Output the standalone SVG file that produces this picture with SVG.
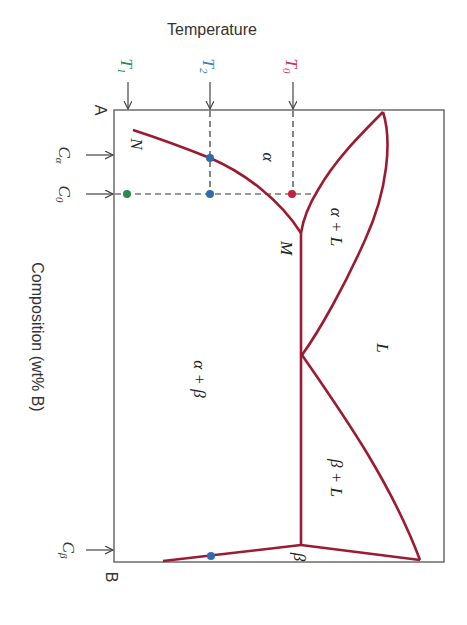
<svg xmlns="http://www.w3.org/2000/svg" width="467" height="625" viewBox="0 0 467 625">
<style>
.box{fill:none;stroke:#555;stroke-width:1.3}
.curve{fill:none;stroke:#9b1b30;stroke-width:2.6;stroke-linejoin:round}
.dash{fill:none;stroke:#333;stroke-width:1.2;stroke-dasharray:6,4}
.arr{fill:none;stroke:#444;stroke-width:1.2;marker-end:url(#ah)}
.sans{font-family:"Liberation Sans",Arial,sans-serif;font-size:16px;fill:#333}
.it{font-family:"Liberation Serif","Times New Roman",serif;font-style:italic;font-size:16px;fill:#222}
.lab{font-family:"Liberation Serif","Times New Roman",serif;font-style:italic;font-size:17px}
</style>
<defs>
<marker id="ah" markerWidth="10" markerHeight="10" refX="8" refY="4" orient="auto" markerUnits="userSpaceOnUse">
<path d="M0,0 L8,4 L0,8" fill="none" stroke="#444" stroke-width="1.2"/>
</marker>
</defs>
<g id="frame">
<rect class="box" x="114" y="110" width="330" height="452"/>
</g>
<g id="labels-axes">
<text class="sans" x="212" y="35" text-anchor="middle">Temperature</text>
<text class="sans" transform="translate(32,337) rotate(90)" text-anchor="middle">Composition (wt% B)</text>
<text class="sans" transform="translate(95,110) rotate(90)" text-anchor="middle">A</text>
<text class="sans" transform="translate(106,577) rotate(90)" text-anchor="middle">B</text>
</g>
<g id="temp-labels">
<text class="lab" transform="translate(121,66) rotate(90)" text-anchor="middle" style="fill:#2a8a5c">T<tspan font-size="11" dy="3">1</tspan></text>
<text class="lab" transform="translate(203,66) rotate(90)" text-anchor="middle" style="fill:#3a7fbf">T<tspan font-size="11" dy="3">2</tspan></text>
<text class="lab" transform="translate(286,66) rotate(90)" text-anchor="middle" style="fill:#d0305f">T<tspan font-size="11" dy="3">0</tspan></text>
</g>
<g id="comp-labels">
<text class="lab" transform="translate(59,155) rotate(90)" text-anchor="middle" style="fill:#333">C<tspan font-size="11" dy="3">α</tspan></text>
<text class="lab" transform="translate(59,194) rotate(90)" text-anchor="middle" style="fill:#333">C<tspan font-size="11" dy="3">0</tspan></text>
<text class="lab" transform="translate(63,550) rotate(90)" text-anchor="middle" style="fill:#333">C<tspan font-size="11" dy="3">β</tspan></text>
</g>
<g id="connectors">
<line class="arr" x1="128" y1="82" x2="128" y2="109"/>
<line class="arr" x1="210" y1="82" x2="210" y2="109"/>
<line class="arr" x1="293" y1="82" x2="293" y2="109"/>
<line class="arr" x1="86" y1="155" x2="113" y2="155"/>
<line class="arr" x1="86" y1="194" x2="113" y2="194"/>
<line class="arr" x1="86" y1="550" x2="113" y2="550"/>
<line class="dash" x1="210" y1="111" x2="210" y2="194"/>
<line class="dash" x1="293" y1="111" x2="293" y2="194"/>
<line class="dash" x1="115" y1="194" x2="316" y2="194"/>
</g>
<g id="phase-boundaries">
<path class="curve" d="M133,130 C170,142 195,152 210,158 C245,173 280,200 301,233"/>
<path class="curve" d="M383,112 C360,135 335,160 318,190 C310,203 303,220 301,233"/>
<path class="curve" d="M383,112 C392,140 388,190 365,240 C345,285 320,330 302,355"/>
<path class="curve" d="M301,233 L301,545"/>
<path class="curve" d="M302,355 C340,410 390,480 420,560"/>
<path class="curve" d="M301,545 L420,560"/>
<path class="curve" d="M301,545 L163,561"/>
</g>
<g id="points">
<circle cx="127" cy="194" r="4" fill="#2a8a50"/>
<circle cx="210" cy="158" r="4" fill="#2f6cae"/>
<circle cx="210" cy="194" r="4" fill="#2f6cae"/>
<circle cx="292" cy="194" r="4" fill="#c8203c"/>
<circle cx="211" cy="556" r="4" fill="#2f6cae"/>
</g>
<g id="region-labels">
<text class="lab" transform="translate(131,144) rotate(90)" text-anchor="middle" fill="#222">N</text>
<text class="lab" transform="translate(263,157) rotate(90)" text-anchor="middle" fill="#222">α</text>
<text class="lab" transform="translate(281,248) rotate(90)" text-anchor="middle" fill="#222">M</text>
<text class="lab" transform="translate(331,227) rotate(90)" text-anchor="middle" fill="#222">α + L</text>
<text class="lab" transform="translate(377,348) rotate(90)" text-anchor="middle" fill="#222">L</text>
<text class="lab" transform="translate(194,379) rotate(90)" text-anchor="middle" fill="#222">α + β</text>
<text class="lab" transform="translate(331,478) rotate(90)" text-anchor="middle" fill="#222">β + L</text>
<text class="lab" transform="translate(294,557) rotate(90)" text-anchor="middle" fill="#222">β</text>
</g>
</svg>
